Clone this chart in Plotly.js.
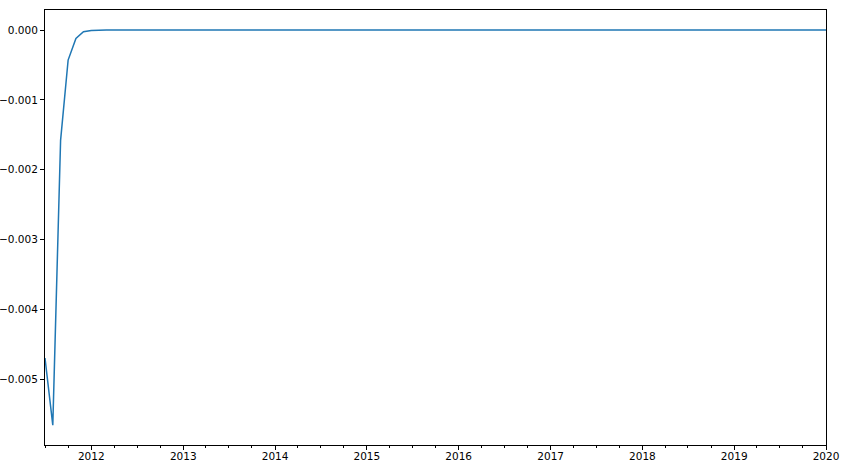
<!doctype html>
<html>
<head>
  <meta charset="utf-8">
  <script src="https://cdn.plot.ly/plotly-3.0.1.min.js"></script>
  <style>
    body { margin: 0; background: #fff; }
  </style>
</head>
<body>
  <div id="plot" style="width:854px;height:476px;"></div>
  <script>
    // monthly at the start, flat at zero afterwards
    var dates = ['2011-07-01', '2011-08-01', '2011-09-01', '2011-10-01', '2011-11-01',
                 '2011-12-01', '2012-01-01', '2012-02-01', '2012-03-01', '2012-06-01',
                 '2013-01-01', '2014-01-01', '2015-01-01', '2016-01-01', '2017-01-01',
                 '2018-01-01', '2019-01-01', '2020-01-01'];
    var values = [-0.0047, -0.00566, -0.00158, -0.00043, -0.00012,
                  -0.000025, -0.000006, -0.000002, -0.0000005, 0,
                  0, 0, 0, 0, 0,
                  0, 0, 0];
    var yTicks = [0, -0.001, -0.002, -0.003, -0.004, -0.005];
    var yTickText = ['0.000', '\u22120.001', '\u22120.002', '\u22120.003', '\u22120.004', '\u22120.005'];
    var xTicks = ['2012-01-01', '2013-01-01', '2014-01-01', '2015-01-01', '2016-01-01',
                  '2017-01-01', '2018-01-01', '2019-01-01', '2020-01-01'];
    var xTickText = ['2012', '2013', '2014', '2015', '2016', '2017', '2018', '2019', '2020'];

    var trace = {
      x: dates,
      y: values,
      mode: 'lines',
      type: 'scatter',
      line: { color: '#1f77b4', width: 1.5 }
    };

    var layout = {
      width: 854,
      height: 476,
      margin: { l: 45, r: 28, t: 10, b: 31 },
      paper_bgcolor: '#fff',
      plot_bgcolor: '#fff',
      showlegend: false,
      font: { family: 'DejaVu Sans', size: 10.5, color: '#000' },
      xaxis: {
        type: 'date',
        range: ['2011-07-01', '2020-01-01'],
        tickvals: xTicks,
        ticktext: xTickText,
        ticks: 'outside',
        ticklen: 4,
        tickcolor: '#000',
        ticklabelstandoff: -3,
        showgrid: false,
        zeroline: false,
        showline: true,
        mirror: true,
        linecolor: '#000',
        linewidth: 1,
        minor: { dtick: 'M3', tick0: '2011-07-01', ticks: 'outside', ticklen: 2, tickcolor: '#000', showgrid: false }
      },
      yaxis: {
        range: [-0.005945, 0.000287],
        tickvals: yTicks,
        ticktext: yTickText,
        ticks: 'outside',
        ticklen: 4,
        tickcolor: '#000',
        showgrid: false,
        zeroline: false,
        showline: true,
        mirror: true,
        linecolor: '#000',
        linewidth: 1
      }
    };

    Plotly.newPlot('plot', [trace], layout, { displayModeBar: false, staticPlot: true });
  </script>
</body>
</html>
